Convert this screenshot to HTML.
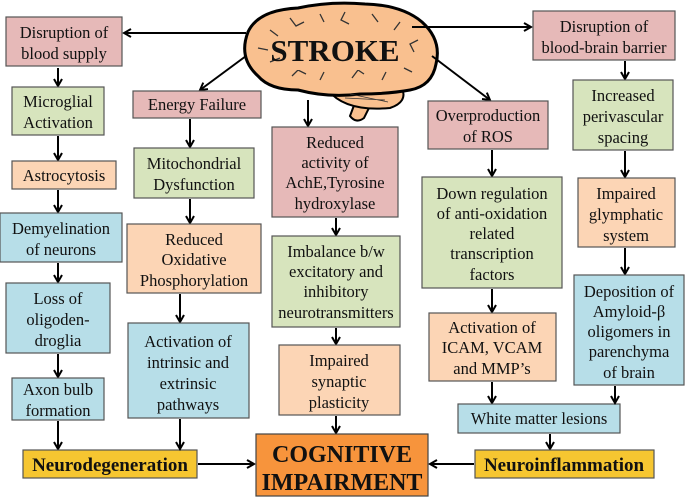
<!DOCTYPE html>
<html><head><meta charset="utf-8"><style>
html,body{margin:0;padding:0;background:#fff;}
svg{display:block;}
text{font-family:"Liberation Serif",serif;font-size:16.5px;fill:#111;text-anchor:middle;}
.b{stroke:#555;stroke-width:1.2;}
.p{fill:#e6b9b8;} .g{fill:#d7e4bd;} .o{fill:#fcd5b5;} .c{fill:#b7dee8;} .y{fill:#f6c631;}
.a{stroke:#000;stroke-width:2;fill:none;marker-end:url(#ar);}
</style></head><body>
<svg width="685" height="497" viewBox="0 0 685 497">
<defs><marker id="ar" markerWidth="10" markerHeight="10" refX="8" refY="5" orient="auto" markerUnits="userSpaceOnUse"><path d="M1,1 L8,5 L1,9" fill="none" stroke="#000" stroke-width="2"/></marker></defs>

<!-- brain -->
<path d="M356,100 L350,116 Q356,124 364,118 L372,102 Z" fill="#f9c08f" stroke="#000" stroke-width="2"/>
<path d="M328,90 Q345,112 390,108 Q408,102 402,88 Z" fill="#f9c08f" stroke="#000" stroke-width="2"/>
<path d="M248,32 Q258,10 298,8 Q330,1 365,4 Q402,5 422,22 Q442,40 436,64 Q432,86 410,90 Q388,94 360,94 Q328,98 298,90 Q270,90 258,76 Q238,58 248,32 Z" fill="#f9c08f" stroke="#000" stroke-width="3"/>
<g stroke="#333" stroke-width="1.3" fill="none">
<path d="M270,30 l8,6 M290,18 l6,8 l8,-4 M320,14 l4,8 M345,12 l-4,8 l8,4 M372,14 l6,8 M400,22 l-6,8 M418,40 l-8,4 l4,8 M270,62 l10,-4 M292,76 l6,-6 l8,4 M320,80 l4,-8 M352,78 l6,-8 l6,4 M382,80 l4,-8 M412,72 l-8,-4 M258,48 l10,2"/>
<path d="M345,98 l40,2 M350,94 l38,8" stroke-width="0.8"/>
</g>
<rect x="280" y="32" width="110" height="38" fill="#f9c08f"/>
<text x="335" y="61" style="font-size:31px;font-weight:bold">STROKE</text>

<!-- brain arrows -->
<path class="a" d="M246,33 L124,33"/>
<path class="a" d="M246,56 L200,90"/>
<path class="a" d="M308,100 L308,126"/>
<path class="a" d="M432,56 L490,100"/>
<path class="a" d="M412,27 L531,27"/>

<!-- column 1 -->
<rect class="b p" x="6" y="17" width="116" height="49"/>
<text x="64" y="38">Disruption of</text><text x="64" y="59">blood supply</text>
<path class="a" d="M58,68 L58,86"/>
<rect class="b g" x="12" y="87" width="92" height="48"/>
<text x="58" y="107">Microglial</text><text x="58" y="128">Activation</text>
<path class="a" d="M58,136 L58,160"/>
<rect class="b o" x="12" y="161" width="104" height="28"/>
<text x="64" y="181">Astrocytosis</text>
<path class="a" d="M58,190 L58,212"/>
<rect class="b c" x="0" y="213" width="122" height="49"/>
<text x="61" y="234">Demyelination</text><text x="61" y="255">of neurons</text>
<path class="a" d="M58,263 L58,282"/>
<rect class="b c" x="6" y="283" width="104" height="70"/>
<text x="58" y="304">Loss of</text><text x="58" y="325">oligoden-</text><text x="58" y="346">droglia</text>
<path class="a" d="M58,354 L58,377"/>
<rect class="b c" x="12" y="378" width="92" height="42"/>
<text x="58" y="395">Axon bulb</text><text x="58" y="416">formation</text>
<path class="a" d="M58,421 L58,449"/>
<rect class="b y" x="23" y="450" width="174" height="28"/>
<text x="110" y="471" style="font-weight:bold;font-size:19px">Neurodegeneration</text>
<path class="a" d="M198,464 L254,464"/>

<!-- column 2 -->
<rect class="b p" x="133" y="91" width="128" height="27"/>
<text x="197" y="110">Energy Failure</text>
<path class="a" d="M190,119 L190,147"/>
<rect class="b g" x="134" y="148" width="120" height="50"/>
<text x="194" y="169">Mitochondrial</text><text x="194" y="190">Dysfunction</text>
<path class="a" d="M190,199 L190,223"/>
<rect class="b o" x="127" y="224" width="134" height="69"/>
<text x="194" y="245">Reduced</text><text x="194" y="265">Oxidative</text><text x="194" y="286">Phosphorylation</text>
<path class="a" d="M180,294 L180,322"/>
<rect class="b c" x="128" y="323" width="121" height="95"/>
<text x="188" y="347">Activation of</text><text x="188" y="368">intrinsic and</text><text x="188" y="389">extrinsic</text><text x="188" y="410">pathways</text>
<path class="a" d="M180,419 L180,449"/>

<!-- column 3 -->
<rect class="b p" x="272" y="127" width="126" height="90"/>
<text x="335" y="148">Reduced</text><text x="335" y="168">activity of</text><text x="335" y="188">AchE,Tyrosine</text><text x="335" y="209">hydroxylase</text>
<path class="a" d="M336,218 L336,235"/>
<rect class="b g" x="272" y="236" width="128" height="91"/>
<text x="336" y="257">Imbalance b/w</text><text x="336" y="277">excitatory and</text><text x="336" y="297">inhibitory</text><text x="336" y="318">neurotransmitters</text>
<path class="a" d="M336,328 L336,344"/>
<rect class="b o" x="279" y="345" width="121" height="70"/>
<text x="339" y="366">Impaired</text><text x="339" y="387">synaptic</text><text x="339" y="408">plasticity</text>
<path class="a" d="M336,416 L336,433"/>
<rect x="256" y="434" width="172" height="62" fill="#f7943c" stroke="#444" stroke-width="1.2"/>
<text x="342" y="462" style="font-weight:bold;font-size:24px">COGNITIVE</text>
<text x="342" y="490" style="font-weight:bold;font-size:24px">IMPAIRMENT</text>

<!-- column 4 -->
<rect class="b p" x="428" y="101" width="120" height="48"/>
<text x="488" y="121">Overproduction</text><text x="488" y="142">of ROS</text>
<path class="a" d="M492,150 L492,176"/>
<rect class="b g" x="422" y="177" width="140" height="111"/>
<text x="492" y="199">Down regulation</text><text x="492" y="219">of anti-oxidation</text><text x="492" y="239">related</text><text x="492" y="259">transcription</text><text x="492" y="280">factors</text>
<path class="a" d="M492,289 L492,312"/>
<rect class="b o" x="429" y="313" width="127" height="68"/>
<text x="492" y="333">Activation of</text><text x="492" y="353">ICAM, VCAM</text><text x="492" y="374">and MMP’s</text>
<path class="a" d="M492,382 L492,403"/>
<rect class="b c" x="458" y="404" width="162" height="29"/>
<text x="539" y="424">White matter lesions</text>
<path class="a" d="M550,434 L550,449"/>
<rect class="b y" x="475" y="450" width="179" height="28"/>
<text x="564" y="471" style="font-weight:bold;font-size:19px">Neuroinflammation</text>
<path class="a" d="M474,464 L430,464"/>

<!-- column 5 -->
<rect class="b p" x="533" y="11" width="142" height="49"/>
<text x="604" y="32">Disruption of</text><text x="604" y="53">blood-brain barrier</text>
<path class="a" d="M625,61 L625,79"/>
<rect class="b g" x="573" y="80" width="100" height="70"/>
<text x="623" y="101">Increased</text><text x="623" y="122">perivascular</text><text x="623" y="143">spacing</text>
<path class="a" d="M625,151 L625,177"/>
<rect class="b o" x="578" y="178" width="97" height="69"/>
<text x="626" y="199">Impaired</text><text x="626" y="220">glymphatic</text><text x="626" y="241">system</text>
<path class="a" d="M625,248 L625,274"/>
<rect class="b c" x="574" y="275" width="110" height="110"/>
<text x="629" y="297">Deposition of</text><text x="629" y="317">Amyloid-β</text><text x="629" y="337">oligomers in</text><text x="629" y="357">parenchyma</text><text x="629" y="378">of brain</text>
<path class="a" d="M615,386 L615,403"/>
</svg>
</body></html>
